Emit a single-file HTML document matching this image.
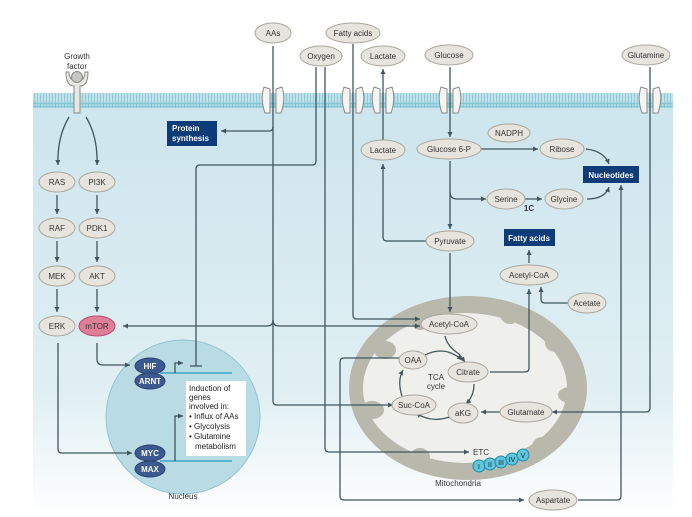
<!DOCTYPE html>
<html><head><meta charset="utf-8"><style>
html,body{margin:0;padding:0;background:#fff}
svg{display:block;font-family:"Liberation Sans",sans-serif}
</style></head><body>
<svg width="692" height="517" viewBox="0 0 692 517" xmlns="http://www.w3.org/2000/svg">
<defs>
<linearGradient id="cell" x1="0" y1="0" x2="0" y2="1">
<stop offset="0" stop-color="#cde5ed"/><stop offset="0.7" stop-color="#e0eff3"/><stop offset="1" stop-color="#ffffff"/>
</linearGradient>
<pattern id="mem" width="3" height="15" patternUnits="userSpaceOnUse">
<rect width="3" height="15" fill="#bfe2ea"/><rect x="1" y="3" width="1" height="9" fill="#8fcbd8"/>
<circle cx="1.5" cy="1.5" r="1.3" fill="#7ec3d2"/><circle cx="1.5" cy="13.5" r="1.3" fill="#7ec3d2"/>
</pattern>
<marker id="a" markerWidth="6" markerHeight="6" refX="5" refY="3" orient="auto" markerUnits="userSpaceOnUse"><path d="M0,0.5 L5,3 L0,5.5z" fill="#3f5660"/></marker>
</defs>
<rect x="33" y="100" width="640" height="417" fill="url(#cell)"/>
<rect x="33" y="93" width="640" height="15" fill="url(#mem)"/>
<!-- nucleus -->
<circle cx="183" cy="417" r="77" fill="#b9dbe4" stroke="#93c4d0" stroke-width="1"/>
<!-- mitochondria -->
<ellipse cx="468" cy="388" rx="119" ry="92" fill="#b9b8ad"/>
<ellipse cx="465" cy="388" rx="102" ry="75" fill="#efefec"/>
<g fill="#b9b8ad">
<ellipse cx="420" cy="318" rx="10" ry="12"/><ellipse cx="510" cy="314" rx="10" ry="10"/><ellipse cx="556" cy="343" rx="11" ry="9"/>
<ellipse cx="570" cy="395" rx="12" ry="8"/><ellipse cx="542" cy="447" rx="10" ry="10"/><ellipse cx="385" cy="350" rx="11" ry="9"/>
<ellipse cx="372" cy="410" rx="12" ry="9"/><ellipse cx="420" cy="457" rx="10" ry="9"/>
</g>
<!-- transporters -->
<g fill="#f4f4f2" stroke="#8a8a86" stroke-width="1">
<path d="M264,87 q-4,12 1,26 h5 v-24z M282,87 q4,12 -1,26 h-5 v-24z"/>
<path d="M344,87 q-4,12 1,26 h5 v-24z M362,87 q4,12 -1,26 h-5 v-24z"/>
<path d="M374,87 q-4,12 1,26 h5 v-24z M392,87 q4,12 -1,26 h-5 v-24z"/>
<path d="M441,87 q-4,12 1,26 h5 v-24z M459,87 q4,12 -1,26 h-5 v-24z"/>
<path d="M641,87 q-4,12 1,26 h5 v-24z M659,87 q4,12 -1,26 h-5 v-24z"/>
</g>
<!-- receptor -->
<g fill="#e8e8e4" stroke="#8a8a86">
<path d="M66,72 q0,14 8,14 v27 h6 v-27 q8,0 8,-14 h-3 q0,9 -8,9 q-8,0 -8,-9z"/>
<circle cx="77" cy="77" r="5.5" fill="#c8c8c2"/>
</g>
<text x="77" y="59" font-size="8" text-anchor="middle" fill="#333">Growth</text>
<text x="77" y="69" font-size="8" text-anchor="middle" fill="#333">factor</text>
<!-- connectors -->
<g fill="none" stroke="#3f5660" stroke-width="1.3">
<path d="M69,117 q-12,20 -11,48" marker-end="url(#a)"/>
<path d="M86,117 q12,20 11,48" marker-end="url(#a)"/>
<path d="M57,195 v19" marker-end="url(#a)"/><path d="M97,195 v19" marker-end="url(#a)"/>
<path d="M57,241 v21" marker-end="url(#a)"/><path d="M97,241 v21" marker-end="url(#a)"/>
<path d="M57,289 v23" marker-end="url(#a)"/><path d="M97,289 v23" marker-end="url(#a)"/>
<path d="M58,343 v106 q0,4 4,4 h70" marker-end="url(#a)"/>
<path d="M97,343 v16 q0,6 6,6 h27" marker-end="url(#a)"/>
<path d="M273,46 v355 q0,4 4,4 h116" marker-end="url(#a)"/>
<path d="M273,127 q0,4 -4,4 h-48" marker-end="url(#a)"/>
<path d="M273,320 q0,6 -6,6 h-144" marker-end="url(#a)"/>
<path d="M273,320 q0,6 6,6 h141" marker-end="url(#a)"/>
<path d="M316,67 v94 q0,4 -4,4 h-112 q-4,0 -4,4 v197"/>
<path d="M190,366 h12"/>
<path d="M325,67 v381 q0,4 4,4 h140" marker-end="url(#a)"/>
<path d="M401,358 h-57 q-4,0 -4,4 v134 q0,4 4,4 h180" marker-end="url(#a)"/>
<path d="M578,500 h39 q4,0 4,-4 v-311" marker-end="url(#a)"/>
<path d="M353,44 v271 q0,4 4,4 h63" marker-end="url(#a)"/>
<path d="M383,140 v-71" marker-end="url(#a)"/>
<path d="M426,241 h-39 q-4,0 -4,-4 v-73" marker-end="url(#a)"/>
<path d="M450,67 v70" marker-end="url(#a)"/>
<path d="M481,149 h57" marker-end="url(#a)"/>
<path d="M450,161 v68" marker-end="url(#a)"/>
<path d="M450,192 q0,7 7,7 h29" marker-end="url(#a)"/>
<path d="M523,199 h19" marker-end="url(#a)"/>
<path d="M586,149 q18,2 23,15" marker-end="url(#a)"/>
<path d="M587,199 q18,0 22,-12" marker-end="url(#a)"/>
<path d="M450,253 v59" marker-end="url(#a)"/>
<path d="M650,67 v341 q0,4 -4,4 h-94" marker-end="url(#a)"/>
<path d="M490,372 h35 q4,0 4,-4 v-79" marker-end="url(#a)"/>
<path d="M529,263 v-13" marker-end="url(#a)"/>
<path d="M568,303 h-23 q-4,0 -4,-4 v-12" marker-end="url(#a)"/>
<path d="M500,412 h-19" marker-end="url(#a)"/>
<path d="M445,336 q2,10 14,18 l6,8" marker-end="url(#a)"/>
<path d="M425,355 q20,-10 37,5" marker-end="url(#a)"/>
<path d="M474,384 q0,12 -8,20" marker-end="url(#a)"/>
<path d="M452,416 q-20,8 -36,-3" marker-end="url(#a)"/>
<path d="M402,396 q-5,-15 1,-26" marker-end="url(#a)"/>
<path d="M160,373 h72" stroke="#3aa8c0" stroke-width="1.6"/>
<path d="M160,461 h72" stroke="#3aa8c0" stroke-width="1.6"/>
<path d="M175,373 v-10 h8" marker-end="url(#a)"/>
<path d="M175,461 v-45 h8" marker-end="url(#a)"/>
</g>
<rect x="186" y="381" width="60" height="75" fill="#fff"/>
<g font-size="8" fill="#222">
<text x="189" y="391">Induction of</text><text x="189" y="400">genes</text><text x="189" y="409">involved in:</text>
<text x="189" y="419">• Influx of AAs</text><text x="189" y="429">• Glycolysis</text><text x="189" y="439">• Glutamine</text><text x="195" y="449">metabolism</text>
</g>
<g fill="#e6e4dc" stroke="#a9a79c" stroke-width="1">
<ellipse cx="273" cy="33" rx="18" ry="10"/><ellipse cx="353" cy="33" rx="27" ry="10"/>
<ellipse cx="321" cy="56" rx="21" ry="10"/><ellipse cx="383" cy="56" rx="22" ry="10"/>
<ellipse cx="449" cy="55" rx="24" ry="10"/><ellipse cx="646" cy="55" rx="24" ry="10"/>
<ellipse cx="509" cy="133" rx="21" ry="9"/>
<ellipse cx="383" cy="150" rx="22" ry="10"/><ellipse cx="449" cy="149" rx="32" ry="10"/><ellipse cx="562" cy="149" rx="22" ry="10"/>
<ellipse cx="506" cy="199" rx="19" ry="10"/><ellipse cx="564" cy="199" rx="19" ry="10"/>
<ellipse cx="450" cy="241" rx="24" ry="10"/>
<ellipse cx="529" cy="275" rx="29" ry="10"/><ellipse cx="587" cy="303" rx="19" ry="10"/>
<ellipse cx="57" cy="182" rx="18" ry="10"/><ellipse cx="97" cy="182" rx="18" ry="10"/>
<ellipse cx="57" cy="228" rx="18" ry="10"/><ellipse cx="97" cy="228" rx="18" ry="10"/>
<ellipse cx="57" cy="276" rx="18" ry="10"/><ellipse cx="97" cy="276" rx="18" ry="10"/>
<ellipse cx="57" cy="326" rx="18" ry="10"/>
<ellipse cx="449" cy="324" rx="28" ry="10"/>
<ellipse cx="413" cy="360" rx="14" ry="9"/><ellipse cx="468" cy="372" rx="20" ry="10"/>
<ellipse cx="414" cy="405" rx="22" ry="10"/><ellipse cx="463" cy="413" rx="15" ry="10"/>
<ellipse cx="526" cy="412" rx="26" ry="10"/>
<ellipse cx="553" cy="500" rx="24" ry="10"/>
</g>
<ellipse cx="97" cy="326" rx="18" ry="10" fill="#e07d99" stroke="#b84a6a"/>
<g fill="#3c5a90" stroke="#2a4070">
<ellipse cx="150" cy="366" rx="15" ry="8"/><ellipse cx="150" cy="381" rx="15" ry="8"/>
<ellipse cx="150" cy="453" rx="15" ry="8"/><ellipse cx="150" cy="469" rx="15" ry="8"/>
</g>
<g font-size="8" fill="#fff" text-anchor="middle" font-weight="bold">
<text x="150" y="369">HIF</text><text x="150" y="384">ARNT</text><text x="150" y="456">MYC</text><text x="150" y="472">MAX</text>
</g>
<g fill="#5fc6dc" stroke="#1f8ba6">
<circle cx="479" cy="466" r="6"/><circle cx="490" cy="464" r="6"/><circle cx="501" cy="462" r="6"/><circle cx="512" cy="459" r="6"/><circle cx="523" cy="455" r="6"/>
</g>
<g font-size="7" fill="#123" text-anchor="middle">
<text x="479" y="469">I</text><text x="490" y="467">II</text><text x="501" y="465">III</text><text x="512" y="462">IV</text><text x="523" y="458">V</text>
</g>
<g fill="#0d3c78">
<rect x="167" y="121" width="50" height="25"/><rect x="583" y="166" width="56" height="17"/><rect x="504" y="229" width="51" height="17"/>
</g>
<g font-size="8" fill="#fff" font-weight="bold">
<text x="172" y="131">Protein</text><text x="172" y="141">synthesis</text>
<text x="611" y="178" text-anchor="middle">Nucleotides</text><text x="529" y="241" text-anchor="middle">Fatty acids</text>
</g>
<g font-size="8" fill="#333" text-anchor="middle">
<text x="273" y="36">AAs</text><text x="353" y="36">Fatty acids</text><text x="321" y="59">Oxygen</text>
<text x="383" y="59">Lactate</text><text x="449" y="58">Glucose</text><text x="646" y="58">Glutamine</text>
<text x="509" y="136">NADPH</text><text x="383" y="153">Lactate</text><text x="449" y="152">Glucose 6-P</text><text x="562" y="152">Ribose</text>
<text x="506" y="202">Serine</text><text x="564" y="202">Glycine</text><text x="450" y="244">Pyruvate</text>
<text x="529" y="278">Acetyl-CoA</text><text x="587" y="306">Acetate</text>
<text x="57" y="185">RAS</text><text x="97" y="185">PI3K</text><text x="57" y="231">RAF</text><text x="97" y="231">PDK1</text>
<text x="57" y="279">MEK</text><text x="97" y="279">AKT</text><text x="57" y="329">ERK</text><text x="97" y="329">mTOR</text>
<text x="449" y="327">Acetyl-CoA</text><text x="413" y="363">OAA</text><text x="468" y="375">Citrate</text>
<text x="414" y="408">Suc-CoA</text><text x="463" y="416">aKG</text><text x="526" y="415">Glutamate</text>
<text x="553" y="503">Aspartate</text><text x="436" y="380">TCA</text><text x="436" y="389">cycle</text>
<text x="458" y="486">Mitochondria</text><text x="183" y="499">Nucleus</text>
<text x="481" y="455">ETC</text>
<text x="529" y="211" font-weight="bold">1C</text>
</g>
</svg>
</body></html>
